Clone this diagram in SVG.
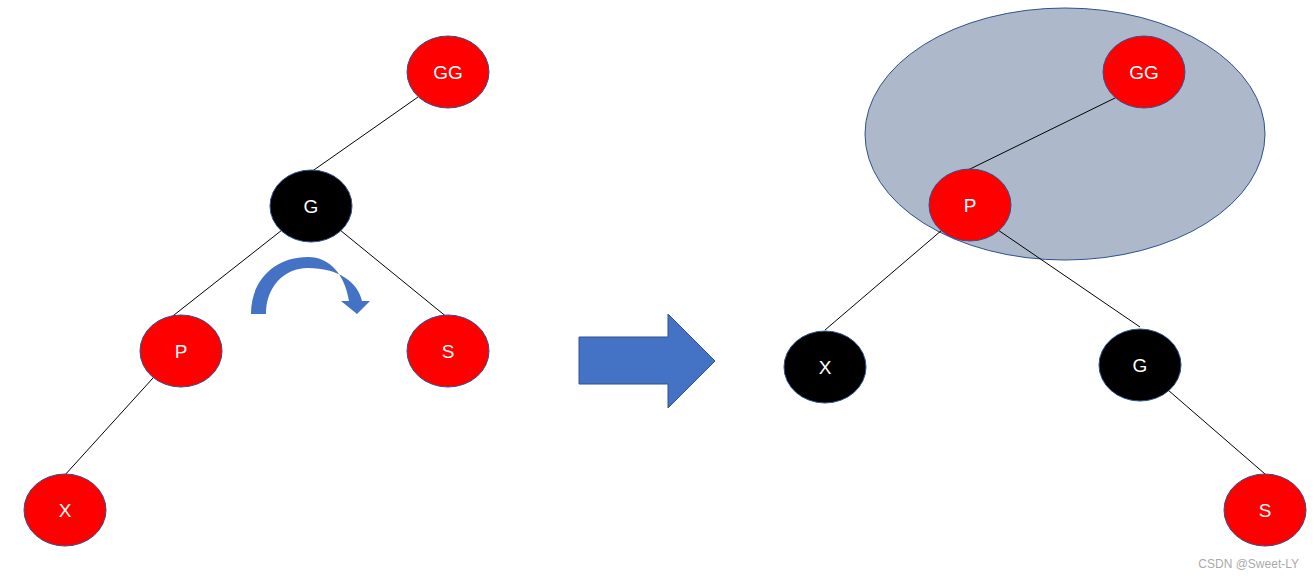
<svg xmlns="http://www.w3.org/2000/svg" width="1314" height="579" viewBox="0 0 1314 579">
<style>
.r{fill:#ff0000;stroke:#2f528f;stroke-width:1}
.b{fill:#000;stroke:#2f528f;stroke-width:1}
.t{fill:#fff;font-family:"Liberation Sans",Arial,sans-serif;font-size:19px;text-anchor:middle;dominant-baseline:central}
.l{stroke:#000;stroke-width:1;fill:none}
</style>
<rect width="1314" height="579" fill="#fff"/>
<ellipse cx="1065" cy="134" rx="200" ry="126" fill="#adb9ca" stroke="#2f528f"/>
<g id="connectors">
<line class="l" x1="418" y1="97" x2="311" y2="172"/>
<line class="l" x1="282" y1="230" x2="155" y2="330"/>
<line class="l" x1="340" y1="230" x2="448" y2="318"/>
<line class="l" x1="153" y1="378" x2="64" y2="476"/>
<line class="l" x1="1115" y1="98" x2="968" y2="170"/>
<line class="l" x1="942" y1="230" x2="825" y2="330"/>
<line class="l" x1="998" y1="230" x2="1140" y2="327"/>
<line class="l" x1="1168" y1="390" x2="1265" y2="474"/>
</g>
<g id="n-GG1"><ellipse class="r" cx="448" cy="72" rx="41" ry="36"/><text class="t" x="448" y="72">GG</text></g>
<g id="n-G1"><ellipse class="b" cx="311" cy="206" rx="41" ry="36"/><text class="t" x="311" y="206">G</text></g>
<g id="n-P1"><ellipse class="r" cx="181" cy="351" rx="41" ry="36"/><text class="t" x="181" y="351">P</text></g>
<g id="n-S1"><ellipse class="r" cx="448" cy="351" rx="41" ry="36"/><text class="t" x="448" y="351">S</text></g>
<g id="n-X1"><ellipse class="r" cx="65" cy="510" rx="41" ry="36"/><text class="t" x="65" y="510">X</text></g>
<g id="rot-arrow"><path d="M251,314 C251,280 275,257 308,257 C330,257 345,275 349,301 L341,301 L357,314 L370,301 L362,301 C358,282 338,268 308,268 C283,268 266,288 266,314 Z" fill="#4472c4"/></g>
<g id="big-arrow"><path d="M579,337 L668,337 L668,314 L715,361 L668,408 L668,384 L579,384 Z" fill="#4472c4" stroke="#2f528f"/></g>
<g id="n-GG2"><ellipse class="r" cx="1144" cy="72" rx="41" ry="36"/><text class="t" x="1144" y="72">GG</text></g>
<g id="n-P2"><ellipse class="r" cx="970" cy="205" rx="41" ry="36"/><text class="t" x="970" y="205">P</text></g>
<g id="n-X2"><ellipse class="b" cx="825" cy="367" rx="41" ry="36"/><text class="t" x="825" y="367">X</text></g>
<g id="n-G2"><ellipse class="b" cx="1140" cy="365" rx="41" ry="36"/><text class="t" x="1140" y="365">G</text></g>
<g id="n-S2"><ellipse class="r" cx="1265" cy="510" rx="41" ry="36"/><text class="t" x="1265" y="510">S</text></g>
<text x="1299" y="568" font-family="Liberation Sans,Arial,sans-serif" font-size="12" fill="#aaa" text-anchor="end">CSDN @Sweet-LY</text>
</svg>
